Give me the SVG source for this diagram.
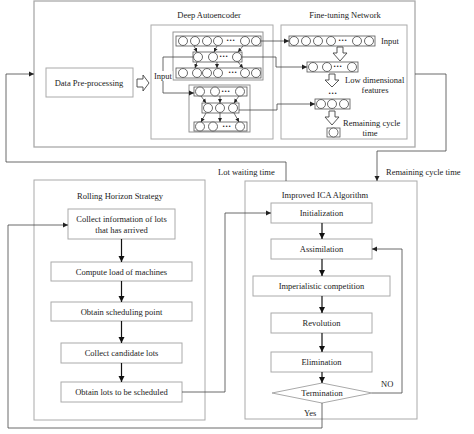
<svg xmlns="http://www.w3.org/2000/svg" width="474" height="434" viewBox="0 0 474 434">
<style>
text{font-family:"Liberation Serif","Times New Roman",serif;font-size:8.5px;fill:#222}
.c{text-anchor:middle}
.box{fill:#fff;stroke:#aaa;stroke-width:1}
.frame{fill:none;stroke:#aaa;stroke-width:1}
.grp{fill:#fff;stroke:#888;stroke-width:0.9}
.rail{fill:#fff;stroke:#555;stroke-width:0.8}
.nd{fill:#fff;stroke:#444;stroke-width:0.8}
.con{fill:none;stroke:#444;stroke-width:0.8}
.sa{fill:none;stroke:#333;stroke-width:0.7}
.flow{fill:none;stroke:#111;stroke-width:1.2}
.hol{fill:#fff;stroke:#444;stroke-width:0.9;stroke-linejoin:miter}
.dots{font-size:9px;font-weight:bold;letter-spacing:0.8px;text-anchor:middle}
</style>
<defs>
<marker id="ah" markerWidth="6" markerHeight="6" refX="5" refY="3" orient="auto" markerUnits="userSpaceOnUse"><path d="M0,0.5 L5,3 L0,5.5 Z" fill="#222"/></marker>
<marker id="as" markerWidth="5" markerHeight="5" refX="4" refY="2.5" orient="auto" markerUnits="userSpaceOnUse"><path d="M0,0.5 L4,2.5 L0,4.5 Z" fill="#222"/></marker>
<marker id="af" markerWidth="7" markerHeight="7" refX="6" refY="3.5" orient="auto" markerUnits="userSpaceOnUse"><path d="M0,0.5 L6,3.5 L0,6.5 Z" fill="#111"/></marker>
</defs>

<g id="outer-top">
<rect x="34" y="1" width="381" height="146" fill="none" stroke="#aaa" stroke-width="1.3"/>
</g>

<g id="data-preprocessing">
<rect class="box" x="46" y="68" width="87" height="29"/>
<text class="c" x="89" y="86">Data Pre-processing</text>
</g>
<g id="hollow-right">
<polygon class="hol" points="137,79 143,79 143,75 149,83 143,91 143,87 137,87"/>
</g>

<g id="deep-autoencoder">
<rect class="frame" x="151" y="25" width="122" height="114"/>
<text class="c" x="209" y="18">Deep Autoencoder</text>
<rect class="grp" x="173" y="32" width="90" height="48"/>
<rect class="rail" x="176" y="36" width="85" height="10"/>
<circle class="nd" cx="183" cy="41" r="4.5"/><circle class="nd" cx="195" cy="41" r="4.5"/><circle class="nd" cx="207" cy="41" r="4.5"/><circle class="nd" cx="218" cy="41" r="4.5"/>
<text class="dots" x="231" y="41">...</text>
<circle class="nd" cx="245" cy="41" r="4.5"/><circle class="nd" cx="256" cy="41" r="4.5"/>
<rect class="rail" x="193" y="52" width="49" height="10"/>
<circle class="nd" cx="198" cy="57" r="4.5"/><circle class="nd" cx="213" cy="57" r="4.5"/>
<text class="dots" x="224" y="57">...</text>
<circle class="nd" cx="237" cy="57" r="4.5"/>
<rect class="rail" x="176" y="68" width="85" height="10"/>
<circle class="nd" cx="183" cy="73" r="4.5"/><circle class="nd" cx="197" cy="73" r="4.5"/><circle class="nd" cx="207" cy="73" r="4.5"/><circle class="nd" cx="218" cy="73" r="4.5"/>
<text class="dots" x="233" y="73">...</text>
<circle class="nd" cx="245" cy="73" r="4.5"/><circle class="nd" cx="256" cy="73" r="4.5"/>
<path class="sa" marker-end="url(#as)" d="M194,46 L197,52"/>
<path class="sa" marker-end="url(#as)" d="M217,46 L214,52"/>
<path class="sa" marker-end="url(#as)" d="M243,46 L238,52"/>
<path class="sa" marker-end="url(#as)" d="M197,62 L195,68"/>
<path class="sa" marker-end="url(#as)" d="M217,62 L217,68"/>
<path class="sa" marker-end="url(#as)" d="M238,62 L243,68"/>
<rect class="grp" x="189" y="85" width="61" height="47"/>
<rect class="rail" x="194" y="87" width="53" height="9"/>
<circle class="nd" cx="200" cy="91.5" r="4.5"/><circle class="nd" cx="215" cy="91.5" r="4.5"/>
<text class="dots" x="226" y="91.5">...</text>
<circle class="nd" cx="240" cy="91.5" r="4.5"/>
<rect class="rail" x="202" y="103" width="37" height="10"/>
<circle class="nd" cx="208" cy="108" r="4.5"/><circle class="nd" cx="220" cy="108" r="4.5"/><circle class="nd" cx="233" cy="108" r="4.5"/>
<rect class="rail" x="194" y="122" width="53" height="9"/>
<circle class="nd" cx="200" cy="126.5" r="4.5"/><circle class="nd" cx="213" cy="126.5" r="4.5"/>
<text class="dots" x="227" y="126.5">...</text>
<circle class="nd" cx="240" cy="126.5" r="4.5"/>
<path class="sa" marker-end="url(#as)" d="M201,96 L206,103"/>
<path class="sa" marker-end="url(#as)" d="M220,96 L220,103"/>
<path class="sa" marker-end="url(#as)" d="M239,96 L234,103"/>
<path class="sa" marker-end="url(#as)" d="M206,113 L201,122"/>
<path class="sa" marker-end="url(#as)" d="M220,113 L220,122"/>
<path class="sa" marker-end="url(#as)" d="M234,113 L239,122"/>
</g>

<g id="fine-tuning-network">
<rect class="frame" x="281" y="25" width="126" height="114"/>
<text class="c" x="345" y="18">Fine-tuning Network</text>
<rect class="rail" x="289" y="36" width="86" height="10"/>
<circle class="nd" cx="294" cy="41" r="4.5"/><circle class="nd" cx="306" cy="41" r="4.5"/><circle class="nd" cx="318" cy="41" r="4.5"/><circle class="nd" cx="331" cy="41" r="4.5"/>
<text class="dots" x="343" y="41">...</text>
<circle class="nd" cx="357" cy="41" r="4.5"/><circle class="nd" cx="369" cy="41" r="4.5"/>
<text x="381" y="44">Input</text>
<polygon class="hol" points="337,47 343,47 343,53 347,53 340,61 333,53 337,53"/>
<rect class="rail" x="307" y="62" width="51" height="10"/>
<circle class="nd" cx="313" cy="67" r="4.5"/><circle class="nd" cx="327" cy="67" r="4.5"/>
<text class="dots" x="338" y="67">...</text>
<circle class="nd" cx="352" cy="67" r="4.5"/>
<polygon class="hol" points="329,74 335,74 335,80 339,80 332,87 325,80 329,80"/>
<text x="345" y="83">Low dimensional</text>
<text class="c" x="375" y="93">features</text>
<text class="dots" x="333" y="94">...</text>
<rect class="rail" x="315" y="99" width="35" height="10"/>
<circle class="nd" cx="321" cy="104" r="4.5"/><circle class="nd" cx="332" cy="104" r="4.5"/><circle class="nd" cx="344" cy="104" r="4.5"/>
<polygon class="hol" points="329,111 335,111 335,117 339,117 332,125 325,117 329,117"/>
<rect class="rail" x="327" y="128" width="13" height="9"/>
<circle class="nd" cx="333.5" cy="132.5" r="4.5"/>
<text x="343" y="126">Remaining cycle</text>
<text class="c" x="370" y="136">time</text>
</g>

<g id="rolling-horizon">
<rect class="frame" x="34" y="180" width="171" height="240"/>
<text class="c" x="120" y="199">Rolling Horizon Strategy</text>
</g>
<g id="collect-info">
<rect class="box" x="68" y="209" width="107" height="30"/>
<text class="c" x="121.5" y="222">Collect information of  lots</text>
<text class="c" x="121.5" y="233">that has arrived</text>
</g>
<g id="compute-load">
<rect class="box" x="51" y="262" width="141" height="19"/>
<text class="c" x="121.5" y="274.5">Compute load of machines</text>
</g>
<g id="obtain-point">
<rect class="box" x="51" y="302" width="141" height="19"/>
<text class="c" x="121.5" y="314.5">Obtain scheduling point</text>
</g>
<g id="collect-candidate">
<rect class="box" x="61" y="343" width="121" height="20"/>
<text class="c" x="121.5" y="356">Collect candidate lots</text>
</g>
<g id="obtain-lots">
<rect class="box" x="61" y="382" width="121" height="20"/>
<text class="c" x="121.5" y="395">Obtain lots to be scheduled</text>
</g>

<g id="ica">
<rect class="frame" x="245" y="181" width="172" height="238"/>
<text class="c" x="325" y="198">Improved ICA Algorithm</text>
</g>
<g id="initialization">
<rect class="box" x="271" y="203" width="101" height="20"/>
<text class="c" x="321.5" y="216">Initialization</text>
</g>
<g id="assimilation">
<rect class="box" x="271" y="239" width="101" height="20"/>
<text class="c" x="321.5" y="252">Assimilation</text>
</g>
<g id="imperialistic">
<rect class="box" x="253" y="276" width="137" height="20"/>
<text class="c" x="321.5" y="289">Imperialistic competition</text>
</g>
<g id="revolution">
<rect class="box" x="271" y="313" width="101" height="20"/>
<text class="c" x="321.5" y="326">Revolution</text>
</g>
<g id="elimination">
<rect class="box" x="271" y="352" width="101" height="20"/>
<text class="c" x="321.5" y="365">Elimination</text>
</g>
<g id="termination">
<polygon class="box" points="272,393 322,383 372,393 322,403"/>
<text class="c" x="322" y="396">Termination</text>
</g>

<g id="connectors">
<path class="con" marker-end="url(#ah)" d="M261,41 H289"/>
<path class="con" marker-end="url(#ah)" d="M242,57 H276 V67 H307"/>
<path class="con" marker-end="url(#ah)" d="M193,57 H163 V93 H194"/>
<path class="con" marker-end="url(#ah)" d="M239,110 H277 V104 H315"/>
<path class="con" marker-end="url(#ah)" d="M286,181 V162 H6 V74 H34"/>
<path class="con" marker-end="url(#ah)" d="M415,74 H446 V151 H377 V181"/>
<path class="flow" marker-end="url(#af)" d="M121.5,239 V262"/>
<path class="flow" marker-end="url(#af)" d="M121.5,281 V302"/>
<path class="flow" marker-end="url(#af)" d="M121.5,321 V343"/>
<path class="flow" marker-end="url(#af)" d="M121.5,363 V382"/>
<path class="con" marker-end="url(#ah)" d="M182,392 H225 V213 H271"/>
<path class="con" marker-end="url(#ah)" d="M322,403 V428 H8 V225 H68"/>
<path class="flow" marker-end="url(#af)" d="M322,223 V239"/>
<path class="flow" marker-end="url(#af)" d="M322,259 V276"/>
<path class="flow" marker-end="url(#af)" d="M322,296 V313"/>
<path class="flow" marker-end="url(#af)" d="M322,333 V352"/>
<path class="flow" marker-end="url(#af)" d="M322,372 V383"/>
<path class="con" marker-end="url(#ah)" d="M372,393 H402 V249 H372"/>
</g>

<g id="labels">
<rect x="153.5" y="71" width="19" height="10" fill="#fff"/>
<text x="154" y="79">Input</text>
<text x="218" y="175">Lot waiting time</text>
<text x="386" y="175">Remaining cycle time</text>
<text x="381" y="387">NO</text>
<text x="304" y="416">Yes</text>
</g>
</svg>
